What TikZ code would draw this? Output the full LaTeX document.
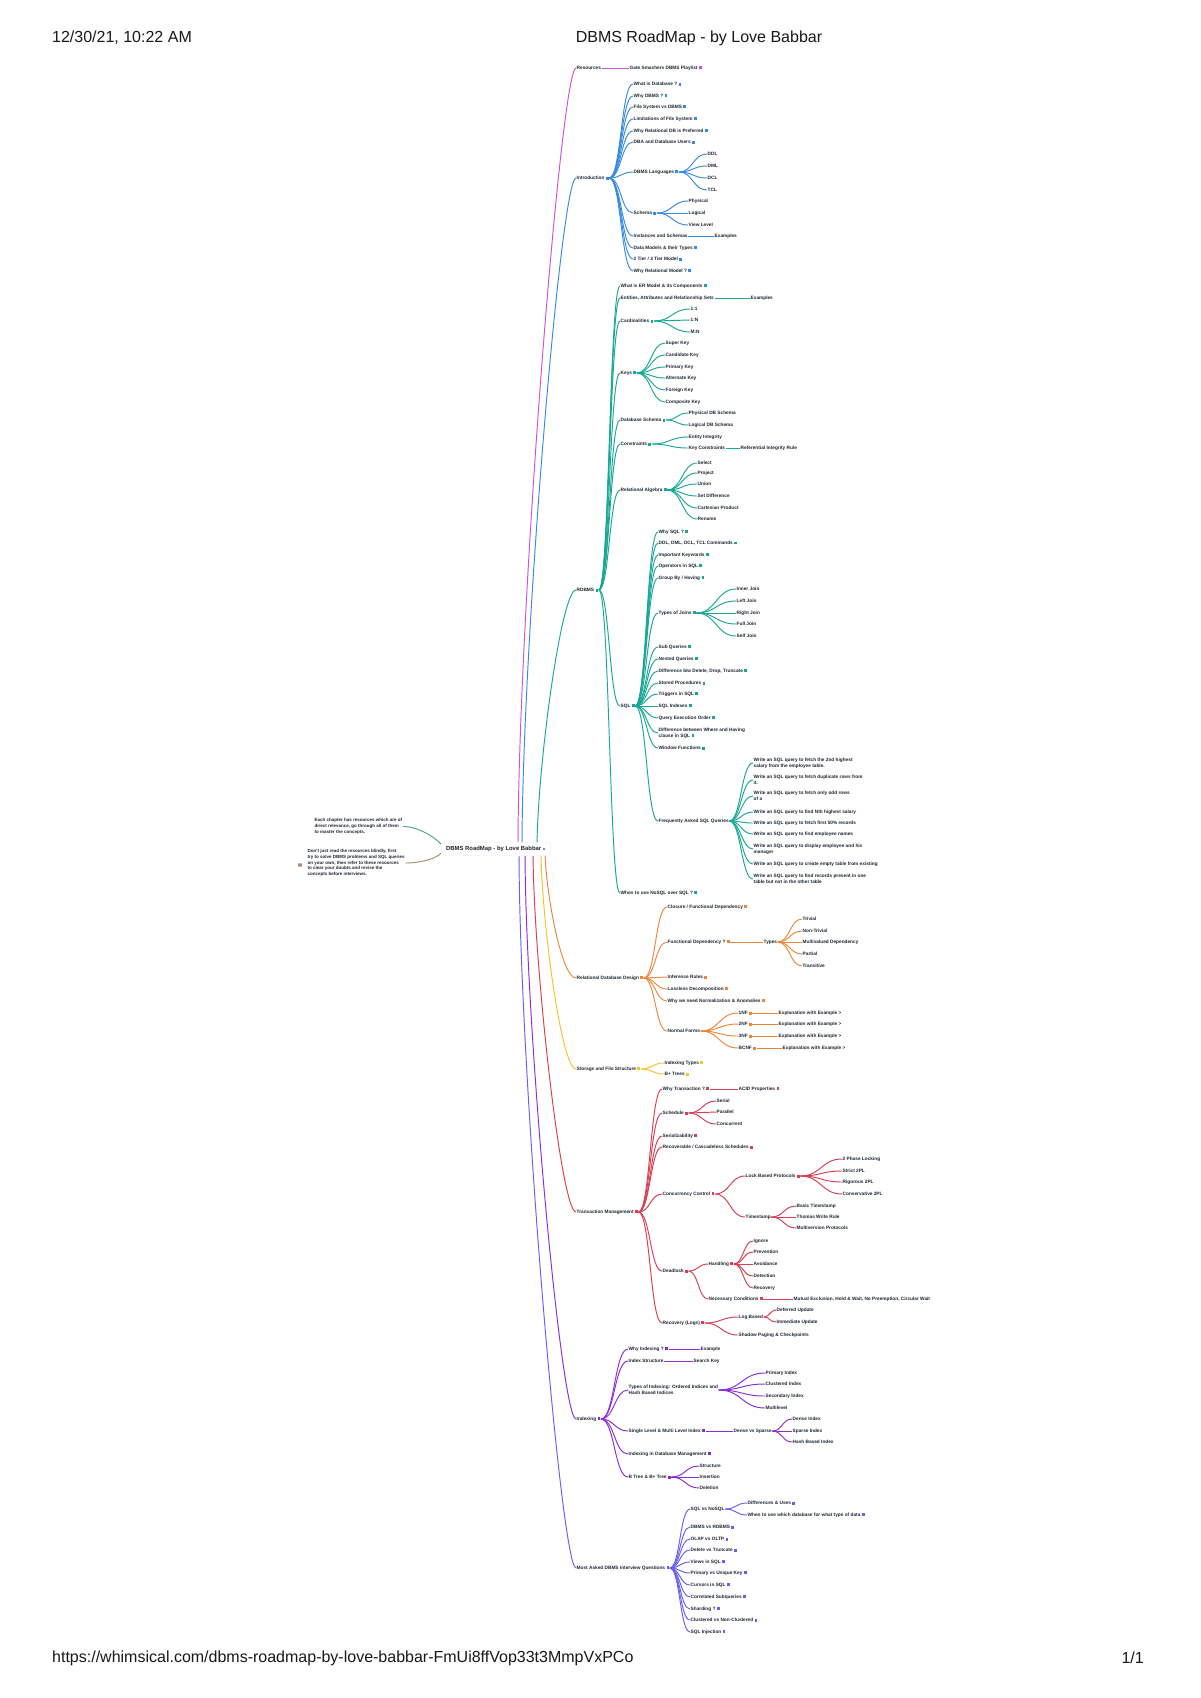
\documentclass[tikz,border=0pt]{standalone}
\usepackage{fontspec}
\setmainfont{Liberation Sans}
\usetikzlibrary{calc}
\pgfdeclarelayer{bg}
\pgfsetlayers{bg,main}
\definecolor{txt}{RGB}{28,36,50}
\definecolor{hdr}{RGB}{25,25,25}
\definecolor{cM}{RGB}{214,80,214}
\definecolor{cB}{RGB}{55,140,225}
\definecolor{cT}{RGB}{25,168,150}
\definecolor{cO}{RGB}{238,135,60}
\definecolor{cY}{RGB}{244,196,40}
\definecolor{cR}{RGB}{218,62,82}
\definecolor{cP}{RGB}{140,45,215}
\definecolor{cV}{RGB}{105,95,240}
\definecolor{cN}{RGB}{85,165,145}
\definecolor{cNb}{RGB}{168,145,105}
\colorlet{br}{black}
\newcommand\dt{\hspace{1.4pt}{\color{br}\rule[0.05ex]{2.7pt}{2.7pt}}}
\newcommand\nd[4][]{\node[lb,#1] (#2) at (#3) {#4};}
\tikzset{
 lb/.style={anchor=west, inner sep=0.5pt, text=txt, font=\fontsize{4.75}{6}\selectfont\bfseries},
 ln/.style={draw=br, line width=0.95pt},
 kid/.style={to path={let \p1=(\tikztostart), \p2=(\tikztotarget) in .. controls ({0.5*\x1+0.5*\x2},\y1) and ({0.5*\x1+0.5*\x2},\y2) .. (\tikztotarget)}},
 rootbox/.style={anchor=west, fill=white, draw=black!8, rounded corners=1.5pt, inner xsep=5pt, inner ysep=4pt, text=txt, font=\fontsize{5.9}{7}\selectfont\bfseries},
 note/.style={anchor=north west, align=left, inner sep=0.5pt, text=txt, font=\fontsize{4.5}{5.6}\selectfont\bfseries},
 head/.style={text=hdr, font=\fontsize{16}{19}\selectfont, inner sep=0pt}
}
\begin{document}
\begin{tikzpicture}[x=1pt,y=-1pt]
\useasboundingbox (0,0) rectangle (1200,1698);
\begin{pgfonlayer}{bg}\fill[white] (0,0) rectangle (1200,1698);\end{pgfonlayer}

% header / footer
\node[head,anchor=west] (date) at (52,38) {12/30/21, 10:22 AM};
\node[head] (title) at (699,38) {DBMS RoadMap - by Love Babbar};
\node[head,anchor=west] (url) at (52,1658) {https://whimsical.com/dbms-roadmap-by-love-babbar-FmUi8ffVop33t3MmpVxPCo};
\node[head,anchor=east] (page) at (1144,1658) {1/1};

% root
\colorlet{br}{black!45}
\node[rootbox] (root) at (441,849) {DBMS RoadMap - by Love Babbar\dt};
\coordinate (sM) at (518,849); \coordinate (sB) at (522,849); \coordinate (sT) at (537,849);
\coordinate (sO) at (545,849); \coordinate (sY) at (541,849); \coordinate (sR) at (533,849);
\coordinate (sP) at (525,849); \coordinate (sV) at (519,849);

% notes
\node[note] (n1) at (314,818) {Each chapter has resources which are of\\direct relevance, go through all of them\\to master the concepts.};
\node[note] (n2) at (307,849) {Don't just read the resources blindly, first\\try to solve DBMS problems and SQL queries\\on your own, then refer to these resources\\to clear your doubts and revise the\\concepts before interviews.};
\node[fill=cNb, inner sep=0pt, minimum width=4pt, minimum height=3.4pt, rounded corners=0.6pt] (ic) at (300,865) {};
\begin{pgfonlayer}{bg}
\draw[line width=0.95pt, draw=cN] (n1.east) .. controls +(16,0) and +(-3,-9) .. ([xshift=3pt]root.west);
\draw[line width=0.95pt, draw=cNb] (n2.east) .. controls +(16,0) and +(-3,9) .. ([xshift=3pt]root.west);
\end{pgfonlayer}

% ---------------- Resources (magenta)
\colorlet{br}{cM}
\nd{res}{576,68}{Resources}
\nd{res1}{629,68}{Gate Smashers DBMS Playlist\dt}
\begin{pgfonlayer}{bg}
\draw[ln] (sM) .. controls (518,615) and (561,68) .. (res.west);
\draw[ln] (res.east) to[kid] (res1.west);
\end{pgfonlayer}

% ---------------- Introduction (blue)
\colorlet{br}{cB}
\nd{intro}{576,178}{Introduction\dt}
\foreach \nm/\yy/\tx in {i1/84/{What is Database ?\dt}, i2/96/{Why DBMS ?\dt}, i3/107/{File System vs DBMS\dt},
  i4/119/{Limitations of File System\dt}, i5/131/{Why Relational DB is Preferred\dt}, i6/142/{DBA and Database Users\dt},
  i7/172/{DBMS Languages\dt}, i8/213/{Schema\dt}, i9/236/{Instances and Schemas}, i10/248/{Data Models \& their Types\dt},
  i11/259/{2 Tier / 3 Tier Model\dt}, i12/271/{Why Relational Model ?\dt}}{\nd{\nm}{633,\yy}{\tx}}
\foreach \nm/\yy/\tx in {l1/154/DDL, l2/166/DML, l3/178/DCL, l4/190/TCL}{\nd{\nm}{707,\yy}{\tx}}
\foreach \nm/\yy/\tx in {a1/201/Physical, a2/213/Logical, a3/225/{View Level}}{\nd{\nm}{688,\yy}{\tx}}
\nd{i9a}{714,236}{Examples}
\begin{pgfonlayer}{bg}
\draw[ln] (sB) .. controls (522,648) and (561,178) .. (intro.west);
\foreach \k in {i1,i2,i3,i4,i5,i6,i7,i8,i9,i10,i11,i12} \draw[ln] (intro.east) to[kid] (\k.west);
\foreach \k in {l1,l2,l3,l4} \draw[ln] (i7.east) to[kid] (\k.west);
\foreach \k in {a1,a2,a3} \draw[ln] (i8.east) to[kid] (\k.west);
\draw[ln] (i9.east) to[kid] (i9a.west);
\end{pgfonlayer}

% ---------------- RDBMS (teal)
\colorlet{br}{cT}
\nd{rdb}{576,590}{RDBMS\dt}
\foreach \nm/\yy/\tx in {t1/286/{What is ER Model \& its Components\dt}, t2/298/{Entities, Attributes and Relationship Sets},
  t3/321/{Cardinalities\dt}, t4/373/{Keys\dt}, t5/420/{Database Schema\dt}, t6/444/{Constraints\dt},
  t7/490/{Relational Algebra\dt}, t8/706/{SQL\dt}, t9/893/{When to use NoSQL over SQL ?\dt}}{\nd{\nm}{620,\yy}{\tx}}
\nd{t2a}{750,298}{Examples}
\foreach \nm/\yy/\tx in {c1/309/{1:1}, c2/320/{1:N}, c3/332/{M:N}}{\nd{\nm}{690,\yy}{\tx}}
\foreach \nm/\yy/\tx in {k1/343/{Super Key}, k2/355/{Candidate Key}, k3/367/{Primary Key}, k4/378/{Alternate Key}, k5/390/{Foreign Key}, k6/402/{Composite Key}}{\nd{\nm}{665,\yy}{\tx}}
\foreach \nm/\yy/\tx in {d1/413/{Physical DB Schema}, d2/425/{Logical DB Schema}}{\nd{\nm}{688,\yy}{\tx}}
\foreach \nm/\yy/\tx in {e1/437/{Entity Integrity}, e2/448/{Key Constraints}}{\nd{\nm}{688,\yy}{\tx}}
\nd{e2a}{740,448}{Referential Integrity Rule}
\foreach \nm/\yy/\tx in {g1/463/Select, g2/473/Project, g3/484/Union, g4/496/{Set Difference}, g5/508/{Cartesian Product}, g6/519/Rename}{\nd{\nm}{697,\yy}{\tx}}
\foreach \nm/\yy/\tx in {s1/532/{Why SQL ?\dt}, s2/543/{DDL, DML, DCL, TCL Commands\dt}, s3/555/{Important Keywords\dt},
  s4/566/{Operators in SQL\dt}, s5/578/{Group By / Having\dt}, s6/613/{Types of Joins\dt}, s7/647/{Sub Queries\dt},
  s8/659/{Nested Queries\dt}, s9/671/{Difference b/w Delete, Drop, Truncate\dt}, s10/683/{Stored Procedures\dt},
  s11/694/{Triggers in SQL\dt}, s12/706/{SQL Indexes\dt}, s13/718/{Query Execution Order\dt},
  s15/748/{Window Functions\dt}, s16/821/{Frequently Asked SQL Queries}}{\nd{\nm}{658,\yy}{\tx}}
\nd[align=left]{s14}{658,733}{Difference between Where and Having\\clause in SQL\dt}
\foreach \nm/\yy/\tx in {j1/589/{Inner Join}, j2/601/{Left Join}, j3/613/{Right Join}, j4/624/{Full Join}, j5/636/{Self Join}}{\nd{\nm}{736,\yy}{\tx}}
\nd[align=left]{q1}{753,763}{Write an SQL query to fetch the 2nd highest\\salary from the employee table.}
\nd[align=left]{q2}{753,780}{Write an SQL query to fetch duplicate rows from\\it.}
\nd[align=left]{q3}{753,796}{Write an SQL query to fetch only odd rows\\of a}
\nd{q4}{753,812}{Write an SQL query to find Nth highest salary}
\nd{q5}{753,823}{Write an SQL query to fetch first 50\% records}
\nd{q6}{753,834}{Write an SQL query to find employee names}
\nd[align=left]{q7}{753,849}{Write an SQL query to display employee and his\\manager}
\nd{q8}{753,864}{Write an SQL query to create empty table from existing}
\nd[align=left]{q9}{753,879}{Write an SQL query to find records present in one\\table but not in the other table}
\begin{pgfonlayer}{bg}
\draw[ln] (sT) .. controls (537,771) and (561,590) .. (rdb.west);
\foreach \k in {t1,t2,t3,t4,t5,t6,t7,t8,t9} \draw[ln] (rdb.east) to[kid] (\k.west);
\draw[ln] (t2.east) to[kid] (t2a.west);
\foreach \k in {c1,c2,c3} \draw[ln] (t3.east) to[kid] (\k.west);
\foreach \k in {k1,k2,k3,k4,k5,k6} \draw[ln] (t4.east) to[kid] (\k.west);
\foreach \k in {d1,d2} \draw[ln] (t5.east) to[kid] (\k.west);
\foreach \k in {e1,e2} \draw[ln] (t6.east) to[kid] (\k.west);
\draw[ln] (e2.east) to[kid] (e2a.west);
\foreach \k in {g1,g2,g3,g4,g5,g6} \draw[ln] (t7.east) to[kid] (\k.west);
\foreach \k in {s1,s2,s3,s4,s5,s6,s7,s8,s9,s10,s11,s12,s13,s14,s15,s16} \draw[ln] (t8.east) to[kid] (\k.west);
\foreach \k in {j1,j2,j3,j4,j5} \draw[ln] (s6.east) to[kid] (\k.west);
\foreach \k in {q1,q2,q3,q4,q5,q6,q7,q8,q9} \draw[ln] (s16.east) to[kid] (\k.west);
\end{pgfonlayer}

% ---------------- Relational Database Design (orange)
\colorlet{br}{cO}
\nd{rdd}{576,978}{Relational Database Design\dt}
\foreach \nm/\yy/\tx in {o1/907/{Closure / Functional Dependency\dt}, o2/942/{Functional Dependency ?\dt}, o3/977/{Inference Rules\dt},
  o4/989/{Lossless Decomposition\dt}, o5/1001/{Why we need Normalization \& Anomalies\dt}, o6/1031/{Normal Forms}}{\nd{\nm}{667,\yy}{\tx}}
\nd{o2a}{763,942}{Types}
\foreach \nm/\yy/\tx in {f1/919/Trivial, f2/931/{Non-Trivial}, f3/942/{Multivalued Dependency}, f4/954/Partial, f5/966/Transitive}{\nd{\nm}{802,\yy}{\tx}}
\foreach \nm/\yy/\tx in {nf1/1013/{1NF\dt}, nf2/1024/{2NF\dt}, nf3/1036/{3NF\dt}, nf4/1048/{BCNF\dt}}{\nd{\nm}{738,\yy}{\tx}}
\foreach \nm/\yy/\xx in {x1/1013/778, x2/1024/778, x3/1036/778, x4/1048/782}{\nd{\nm}{\xx,\yy}{Explanation with Example >}}
\begin{pgfonlayer}{bg}
\draw[ln] (sO) .. controls (545,888) and (561,978) .. (rdd.west);
\foreach \k in {o1,o2,o3,o4,o5,o6} \draw[ln] (rdd.east) to[kid] (\k.west);
\draw[ln] (o2.east) to[kid] (o2a.west);
\foreach \k in {f1,f2,f3,f4,f5} \draw[ln] (o2a.east) to[kid] (\k.west);
\foreach \k in {nf1,nf2,nf3,nf4} \draw[ln] (o6.east) to[kid] (\k.west);
\draw[ln] (nf1.east) to[kid] (x1.west); \draw[ln] (nf2.east) to[kid] (x2.west);
\draw[ln] (nf3.east) to[kid] (x3.west); \draw[ln] (nf4.east) to[kid] (x4.west);
\end{pgfonlayer}

% ---------------- Storage (yellow)
\colorlet{br}{cY}
\nd{sfs}{576,1069}{Storage and File Structure\dt}
\nd{y1}{664,1063}{Indexing Types\dt}
\nd{y2}{664,1074}{B+ Trees\dt}
\begin{pgfonlayer}{bg}
\draw[ln] (sY) .. controls (541,915) and (561,1069) .. (sfs.west);
\foreach \k in {y1,y2} \draw[ln] (sfs.east) to[kid] (\k.west);
\end{pgfonlayer}

% ---------------- Transaction Management (red)
\colorlet{br}{cR}
\nd{tm}{576,1212}{Transaction Management\dt}
\foreach \nm/\yy/\tx in {r1/1089/{Why Transaction ?\dt}, r2/1113/{Schedule\dt}, r3/1136/{Serializability\dt},
  r4/1147/{Recoverable / Cascadeless Schedules\dt}, r5/1194/{Concurrency Control\dt}, r6/1271/{Deadlock\dt},
  r7/1323/{Recovery (Logs)\dt}}{\nd{\nm}{662,\yy}{\tx}}
\nd{r1a}{738,1089}{ACID Properties\dt}
\foreach \nm/\yy/\tx in {w1/1101/Serial, w2/1112/Parallel, w3/1124/Concurrent}{\nd{\nm}{716,\yy}{\tx}}
\nd{r5a}{745,1176}{Lock Based Protocols\dt}
\nd{r5b}{745,1217}{Timestamp}
\foreach \nm/\yy/\tx in {lk1/1159/{2 Phase Locking}, lk2/1171/{Strict 2PL}, lk3/1182/{Rigorous 2PL}, lk4/1194/{Conservative 2PL}}{\nd{\nm}{842,\yy}{\tx}}
\foreach \nm/\yy/\tx in {ts1/1206/{Basic Timestamp}, ts2/1217/{Thomas Write Rule}, ts3/1228/{Multiversion Protocols}}{\nd{\nm}{796,\yy}{\tx}}
\nd{r6a}{708,1264}{Handling\dt}
\nd{r6b}{708,1299}{Necessary Conditions\dt}
\foreach \nm/\yy/\tx in {h1/1241/Ignore, h2/1252/Prevention, h3/1264/Avoidance, h4/1276/Detection, h5/1288/Recovery}{\nd{\nm}{753,\yy}{\tx}}
\nd{r6c}{793,1299}{Mutual Exclusion, Hold \& Wait, No Preemption, Circular Wait}
\nd{r7a}{738,1317}{Log Based}
\nd{r7b}{738,1335}{Shadow Paging \& Checkpoints}
\foreach \nm/\yy/\tx in {lg1/1310/{Deferred Update}, lg2/1322/{Immediate Update}}{\nd{\nm}{776,\yy}{\tx}}
\begin{pgfonlayer}{bg}
\draw[ln] (sR) .. controls (533,958) and (561,1212) .. (tm.west);
\foreach \k in {r1,r2,r3,r4,r5,r6,r7} \draw[ln] (tm.east) to[kid] (\k.west);
\draw[ln] (r1.east) to[kid] (r1a.west);
\foreach \k in {w1,w2,w3} \draw[ln] (r2.east) to[kid] (\k.west);
\foreach \k in {r5a,r5b} \draw[ln] (r5.east) to[kid] (\k.west);
\foreach \k in {lk1,lk2,lk3,lk4} \draw[ln] (r5a.east) to[kid] (\k.west);
\foreach \k in {ts1,ts2,ts3} \draw[ln] (r5b.east) to[kid] (\k.west);
\foreach \k in {r6a,r6b} \draw[ln] (r6.east) to[kid] (\k.west);
\foreach \k in {h1,h2,h3,h4,h5} \draw[ln] (r6a.east) to[kid] (\k.west);
\draw[ln] (r6b.east) to[kid] (r6c.west);
\foreach \k in {r7a,r7b} \draw[ln] (r7.east) to[kid] (\k.west);
\foreach \k in {lg1,lg2} \draw[ln] (r7a.east) to[kid] (\k.west);
\end{pgfonlayer}

% ---------------- Indexing (purple)
\colorlet{br}{cP}
\nd{idx}{576,1419}{Indexing\dt}
\foreach \nm/\yy/\tx in {p1/1349/{Why Indexing ?\dt}, p2/1361/{Index Structure}, p4/1431/{Single Level \& Multi Level Index\dt},
  p5/1454/{Indexing in Database Management\dt}, p6/1477/{B Tree \& B+ Tree\dt}}{\nd{\nm}{628,\yy}{\tx}}
\nd[align=left]{p3}{628,1390}{Types of Indexing: Ordered Indices and\\Hash Based Indices}
\nd{p1a}{700,1349}{Example}
\nd{p2a}{693,1361}{Search Key}
\foreach \nm/\yy/\tx in {pt1/1373/{Primary Index}, pt2/1384/{Clustered Index}, pt3/1396/{Secondary Index}, pt4/1408/Multilevel}{\nd{\nm}{765,\yy}{\tx}}
\nd{p4a}{733,1431}{Dense vs Sparse}
\foreach \nm/\yy/\tx in {ds1/1419/{Dense Index}, ds2/1431/{Sparse Index}, ds3/1442/{Hash Based Index}}{\nd{\nm}{792,\yy}{\tx}}
\foreach \nm/\yy/\tx in {bt1/1466/Structure, bt2/1477/Insertion, bt3/1488/Deletion}{\nd{\nm}{699,\yy}{\tx}}
\begin{pgfonlayer}{bg}
\draw[ln] (sP) .. controls (525,1020) and (561,1419) .. (idx.west);
\foreach \k in {p1,p2,p3,p4,p5,p6} \draw[ln] (idx.east) to[kid] (\k.west);
\draw[ln] (p1.east) to[kid] (p1a.west);
\draw[ln] (p2.east) to[kid] (p2a.west);
\foreach \k in {pt1,pt2,pt3,pt4} \draw[ln] (p3.east) to[kid] (\k.west);
\draw[ln] (p4.east) to[kid] (p4a.west);
\foreach \k in {ds1,ds2,ds3} \draw[ln] (p4a.east) to[kid] (\k.west);
\foreach \k in {bt1,bt2,bt3} \draw[ln] (p6.east) to[kid] (\k.west);
\end{pgfonlayer}

% ---------------- Interview questions (violet)
\colorlet{br}{cV}
\nd{iq}{576,1568}{Most Asked DBMS Interview Questions\dt}
\foreach \nm/\yy/\tx in {v1/1509/{SQL vs NoSQL}, v2/1527/{DBMS vs RDBMS\dt}, v3/1539/{OLAP vs OLTP\dt}, v4/1550/{Delete vs Truncate\dt},
  v5/1562/{Views in SQL\dt}, v6/1573/{Primary vs Unique Key\dt}, v7/1585/{Cursors in SQL\dt}, v8/1597/{Correlated Subqueries\dt},
  v9/1609/{Sharding ?\dt}, v10/1620/{Clustered vs Non-Clustered\dt}, v11/1632/{SQL Injection\dt}}{\nd{\nm}{690,\yy}{\tx}}
\nd{v1a}{747,1503}{Differences \& Uses\dt}
\nd{v1b}{747,1515}{When to use which database for what type of data\dt}
\begin{pgfonlayer}{bg}
\draw[ln] (sV) .. controls (519,1065) and (561,1568) .. (iq.west);
\foreach \k in {v1,v2,v3,v4,v5,v6,v7,v8,v9,v10,v11} \draw[ln] (iq.east) to[kid] (\k.west);
\foreach \k in {v1a,v1b} \draw[ln] (v1.east) to[kid] (\k.west);
\end{pgfonlayer}
\end{tikzpicture}
\end{document}
